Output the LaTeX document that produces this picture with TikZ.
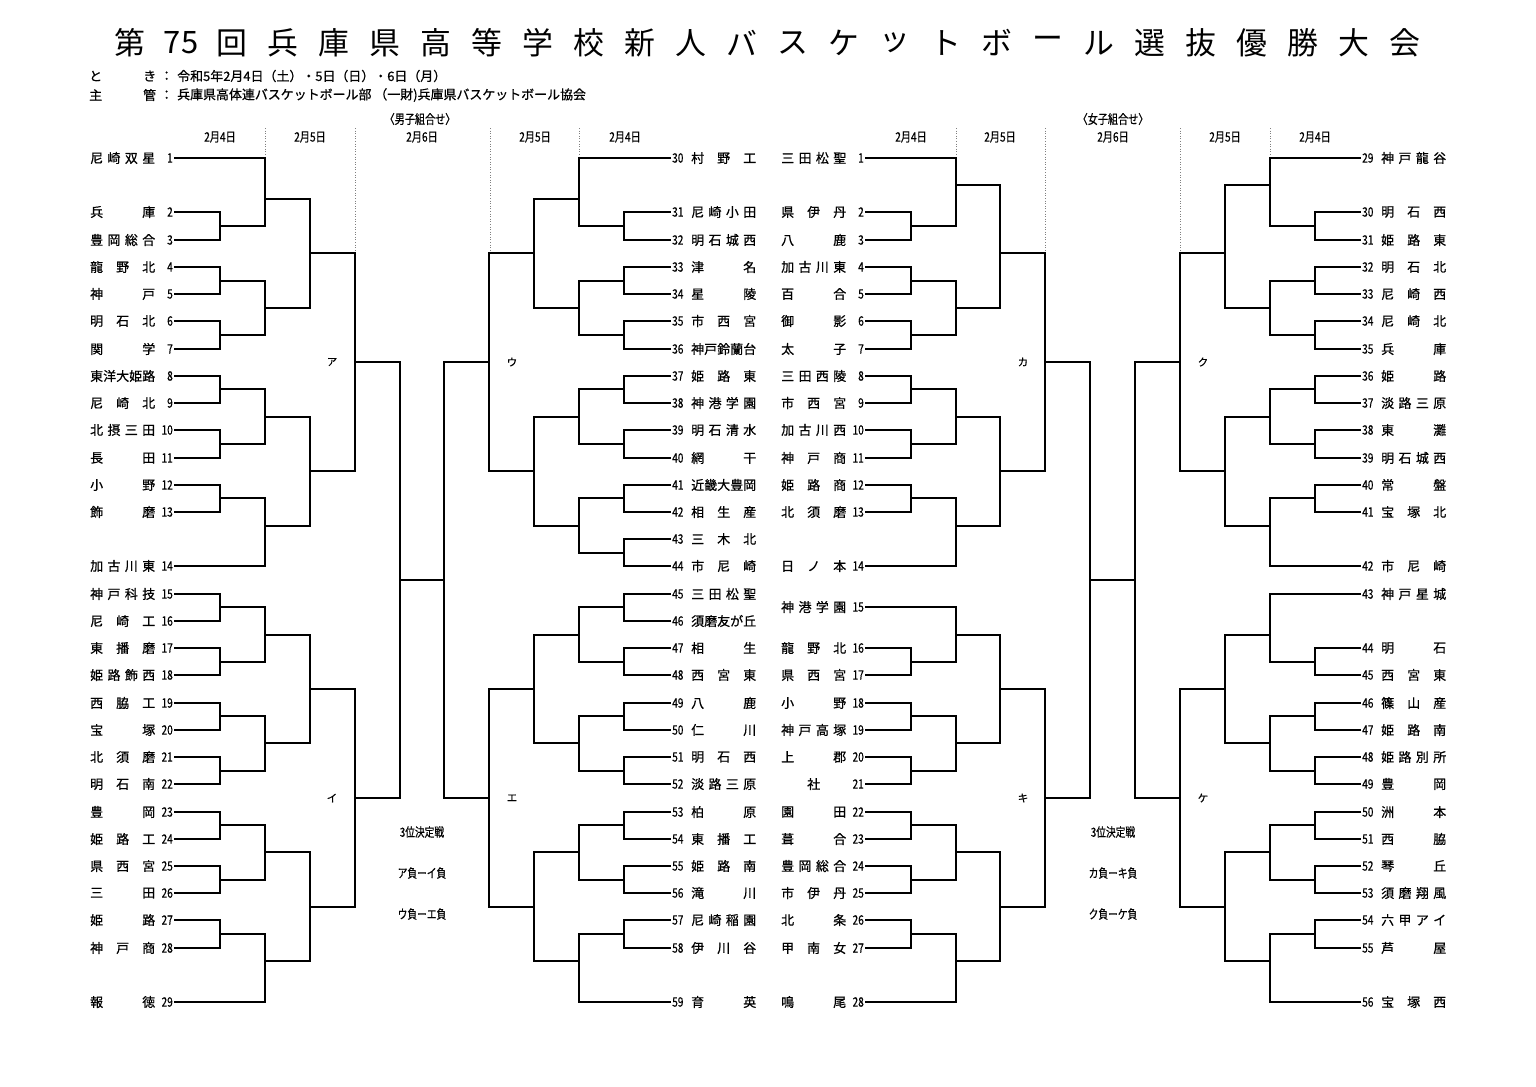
\documentclass[tikz,border=0pt]{standalone}
\usepackage{fontspec}
\setmainfont{Noto Sans CJK JP}
\newfontfamily\narrowfont[FakeStretch=0.78,FakeBold=0.5]{Noto Sans CJK JP}
\newfontfamily\namefont[FakeBold=0.7]{Noto Sans CJK JP}

% names spread over a fixed width, one char centred
\makeatletter
\newlength\namew \setlength\namew{65bp}
\newcommand\spreadname[1]{\makebox[\namew][s]{\spr@start#1\relax}}
\def\spr@start#1#2{\ifx\relax#2\expandafter\@firstoftwo\else\expandafter\@secondoftwo\fi{\hfil#1\hfil}{\spr@a#1#2}}
\def\spr@a#1#2{#1\ifx\relax#2\expandafter\@gobble\else\hfil\fi\spr@a{#2}}
\makeatother

\tikzset{
  num/.style={font=\narrowfont\fontsize{13}{14}\selectfont, inner sep=2bp},
  tname/.style={font=\namefont\fontsize{13}{14}\selectfont, inner sep=0pt},
  ttl/.style={font=\fontsize{31}{32}\selectfont, inner sep=0pt},
  info/.style={font=\namefont\fontsize{13}{14}\selectfont, inner sep=0pt, anchor=west},
  hdr/.style={font=\narrowfont\fontsize{13}{14}\selectfont, inner sep=0pt},
  blk/.style={font=\namefont\fontsize{10.5}{11}\selectfont, inner sep=0pt},
  note/.style={font=\narrowfont\fontsize{12.5}{13}\selectfont, inner sep=0pt},
  bline/.style={line width=2bp, line cap=rect},
  gridline/.style={gray, dotted, line width=0.6bp}
}

\begin{document}
\begin{tikzpicture}[x=1bp,y=-1bp,declare function={row(\r)=round(158+27.23*\r);}]
\useasboundingbox (0,0) rectangle (1536,1086);

% title and heading
\foreach \c [count=\i from 0] in {第,75,回,兵,庫,県,高,等,学,校,新,人,バ,ス,ケ,ッ,ト,ボ,ー,ル,選,抜,優,勝,大,会}
  \node[ttl] (t\i) at ({130+51*\i},43) {\c};
\node[info] (whenA) at (89,76) {と};
\node[info] (whenB) at (143,76) {き};
\node[info] (whenC) at (160,76) {：};
\node[info] (when) at (177,76) {令和5年2月4日（土）・5日（日）・6日（月）};
\node[info] (hostA) at (89,95) {主};
\node[info] (hostB) at (143,95) {管};
\node[info] (hostC) at (160,95) {：};
\node[info] (host) at (177,95) {兵庫県高体連バスケットボール部 （一財)兵庫県バスケットボール協会};

\node[hdr] (boys) at (420,119) {〈男子組合せ〉};
\node[hdr] (girls) at (1113,119) {〈女子組合せ〉};
\foreach \x/\d in {220/4,310/5,422/6,535/5,625/4,911/4,1000/5,1113/6,1225/5,1315/4}
  \node[hdr] (day\x) at (\x,137) {2月\d 日};
\foreach \x/\r in {265/0,355/3.5,490/3.5,579/0,956/0,1045/3.5,1180/3.5,1270/0}
  \draw[gridline] (\x,128) -- (\x,{row(\r)});

% boys, left half
\foreach \n/\r/\s in {1/0/尼崎双星,2/2/兵庫,3/3/豊岡総合,4/4/龍野北,5/5/神戸,6/6/明石北,7/7/関学,
    8/8/東洋大姫路,9/9/尼崎北,10/10/北摂三田,11/11/長田,12/12/小野,13/13/飾磨,14/15/加古川東,
    15/16/神戸科技,16/17/尼崎工,17/18/東播磨,18/19/姫路飾西,19/20/西脇工,20/21/宝塚,21/22/北須磨,
    22/23/明石南,23/24/豊岡,24/25/姫路工,25/26/県西宮,26/27/三田,27/28/姫路,28/29/神戸商,29/31/報徳} {
  \node[num,anchor=east] (b\n) at (175,{row(\r)}) {\n};
  \node[tname,anchor=west] (bn\n) at (90,{row(\r)}) {\expandafter\spreadname\expandafter{\s}};
}
% boys, right half
\foreach \n/\r/\s in {30/0/村野工,31/2/尼崎小田,32/3/明石城西,33/4/津名,34/5/星陵,35/6/市西宮,36/7/神戸鈴蘭台,
    37/8/姫路東,38/9/神港学園,39/10/明石清水,40/11/網干,41/12/近畿大豊岡,42/13/相生産,43/14/三木北,
    44/15/市尼崎,45/16/三田松聖,46/17/須磨友が丘,47/18/相生,48/19/西宮東,49/20/八鹿,50/21/仁川,
    51/22/明石西,52/23/淡路三原,53/24/柏原,54/25/東播工,55/26/姫路南,56/27/滝川,57/28/尼崎稲園,
    58/29/伊川谷,59/31/育英} {
  \node[num,anchor=west] (b\n) at (670,{row(\r)}) {\n};
  \node[tname,anchor=west] (bn\n) at (691,{row(\r)}) {\expandafter\spreadname\expandafter{\s}};
}
% girls, left half
\foreach \n/\r/\s in {1/0/三田松聖,2/2/県伊丹,3/3/八鹿,4/4/加古川東,5/5/百合,6/6/御影,7/7/太子,
    8/8/三田西陵,9/9/市西宮,10/10/加古川西,11/11/神戸商,12/12/姫路商,13/13/北須磨,14/15/日ノ本,
    15/16.5/神港学園,16/18/龍野北,17/19/県西宮,18/20/小野,19/21/神戸高塚,20/22/上郡,21/23/社,
    22/24/園田,23/25/葺合,24/26/豊岡総合,25/27/市伊丹,26/28/北条,27/29/甲南女,28/31/鳴尾} {
  \node[num,anchor=east] (g\n) at (866,{row(\r)}) {\n};
  \node[tname,anchor=west] (gn\n) at (781,{row(\r)}) {\expandafter\spreadname\expandafter{\s}};
}
% girls, right half
\foreach \n/\r/\s in {29/0/神戸龍谷,30/2/明石西,31/3/姫路東,32/4/明石北,33/5/尼崎西,34/6/尼崎北,35/7/兵庫,
    36/8/姫路,37/9/淡路三原,38/10/東灘,39/11/明石城西,40/12/常盤,41/13/宝塚北,42/15/市尼崎,
    43/16/神戸星城,44/18/明石,45/19/西宮東,46/20/篠山産,47/21/姫路南,48/22/姫路別所,49/23/豊岡,
    50/24/洲本,51/25/西脇,52/26/琴丘,53/27/須磨翔風,54/28/六甲アイ,55/29/芦屋,56/31/宝塚西} {
  \node[num,anchor=west] (g\n) at (1360,{row(\r)}) {\n};
  \node[tname,anchor=west] (gn\n) at (1381,{row(\r)}) {\expandafter\spreadname\expandafter{\s}};
}

% boys brackets
\foreach \a/\b/\x/\r/\m in {b2/b3/220/2.5/bm1, b1/bm1/265/1.5/bm2, b4/b5/220/4.5/bm3, b6/b7/220/6.5/bm4,
    bm3/bm4/265/5.5/bm5, bm2/bm5/310/3.5/bm6, b8/b9/220/8.5/bm7, b10/b11/220/10.5/bm8,
    bm7/bm8/265/9.5/bm9, b12/b13/220/12.5/bm10, bm10/b14/265/13.5/bm11, bm9/bm11/310/11.5/bm12,
    bm6/bm12/355/7.5/bmA,
    b15/b16/220/16.5/bm13, b17/b18/220/18.5/bm14, bm13/bm14/265/17.5/bm15, b19/b20/220/20.5/bm16,
    b21/b22/220/22.5/bm17, bm16/bm17/265/21.5/bm18, bm15/bm18/310/19.5/bm19, b23/b24/220/24.5/bm20,
    b25/b26/220/26.5/bm21, bm20/bm21/265/25.5/bm22, b27/b28/220/28.5/bm23, bm23/b29/265/29.5/bm24,
    bm22/bm24/310/27.5/bm25, bm19/bm25/355/23.5/bmI, bmA/bmI/400/15.5/bmL,
    b31/b32/624/2.5/bm31, b30/bm31/579/1.5/bm32, b33/b34/624/4.5/bm33, b35/b36/624/6.5/bm34,
    bm33/bm34/579/5.5/bm35, bm32/bm35/534/3.5/bm36, b37/b38/624/8.5/bm37, b39/b40/624/10.5/bm38,
    bm37/bm38/579/9.5/bm39, b41/b42/624/12.5/bm40, b43/b44/624/14.5/bm41, bm40/bm41/579/13.5/bm42,
    bm39/bm42/534/11.5/bm43, bm36/bm43/489/7.5/bmU,
    b45/b46/624/16.5/bm44, b47/b48/624/18.5/bm45, bm44/bm45/579/17.5/bm46, b49/b50/624/20.5/bm47,
    b51/b52/624/22.5/bm48, bm47/bm48/579/21.5/bm49, bm46/bm49/534/19.5/bm50, b53/b54/624/24.5/bm51,
    b55/b56/624/26.5/bm52, bm51/bm52/579/25.5/bm53, b57/b58/624/28.5/bm54, bm54/b59/579/29.5/bm55,
    bm53/bm55/534/27.5/bm56, bm50/bm56/489/23.5/bmE, bmU/bmE/444/15.5/bmR} {
  \coordinate (\m) at (\x,{row(\r)});
  \draw[bline] (\a) -| (\m) (\b) -| (\m);
}
\draw[bline] (bmL) -- (bmR);

% girls brackets
\foreach \a/\b/\x/\r/\m in {g2/g3/911/2.5/gm1, g1/gm1/956/1/gm2, g4/g5/911/4.5/gm3, g6/g7/911/6.5/gm4,
    gm3/gm4/956/5.5/gm5, gm2/gm5/1000/3.5/gm6, g8/g9/911/8.5/gm7, g10/g11/911/10.5/gm8,
    gm7/gm8/956/9.5/gm9, g12/g13/911/12.5/gm10, gm10/g14/956/13.5/gm11, gm9/gm11/1000/11.5/gm12,
    gm6/gm12/1045/7.5/gmKa,
    g16/g17/911/18.5/gm13, g15/gm13/956/17.5/gm14, g18/g19/911/20.5/gm15, g20/g21/911/22.5/gm16,
    gm15/gm16/956/21.5/gm17, gm14/gm17/1000/19.5/gm18, g22/g23/911/24.5/gm19, g24/g25/911/26.5/gm20,
    gm19/gm20/956/25.5/gm21, g26/g27/911/28.5/gm22, gm22/g28/956/29.5/gm23, gm21/gm23/1000/27.5/gm24,
    gm18/gm24/1045/23.5/gmKi, gmKa/gmKi/1090/15.5/gmL,
    g30/g31/1315/2.5/gm31, g29/gm31/1270/1/gm32, g32/g33/1315/4.5/gm33, g34/g35/1315/6.5/gm34,
    gm33/gm34/1270/5.5/gm35, gm32/gm35/1225/3.5/gm36, g36/g37/1315/8.5/gm37, g38/g39/1315/10.5/gm38,
    gm37/gm38/1270/9.5/gm39, g40/g41/1315/12.5/gm40, gm40/g42/1270/13.5/gm41, gm39/gm41/1225/11.5/gm42,
    gm36/gm42/1180/7.5/gmKu,
    g44/g45/1315/18.5/gm43, g43/gm43/1270/17.5/gm44, g46/g47/1315/20.5/gm45, g48/g49/1315/22.5/gm46,
    gm45/gm46/1270/21.5/gm47, gm44/gm47/1225/19.5/gm48, g50/g51/1315/24.5/gm49, g52/g53/1315/26.5/gm50,
    gm49/gm50/1270/25.5/gm51, g54/g55/1315/28.5/gm52, gm52/g56/1270/29.5/gm53, gm51/gm53/1225/27.5/gm54,
    gm48/gm54/1180/23.5/gmKe, gmKu/gmKe/1135/15.5/gmR} {
  \coordinate (\m) at (\x,{row(\r)});
  \draw[bline] (\a) -| (\m) (\b) -| (\m);
}
\draw[bline] (gmL) -- (gmR);

% block letters
\foreach \x/\r/\l/\k in {332/7.5/ア/A,332/23.5/イ/I,512/7.5/ウ/U,512/23.5/エ/E,
    1023/7.5/カ/Ka,1023/23.5/キ/Ki,1203/7.5/ク/Ku,1203/23.5/ケ/Ke}
  \node[blk] (lab\k) at (\x,{row(\r)}) {\l};

% third place
\node[note] (bthird) at (422,832) {3位決定戦};
\node[note] (bthirdA) at (422,873) {ア負ーイ負};
\node[note] (bthirdB) at (422,914) {ウ負ーエ負};
\node[note] (gthird) at (1113,832) {3位決定戦};
\node[note] (gthirdA) at (1113,873) {カ負ーキ負};
\node[note] (gthirdB) at (1113,914) {ク負ーケ負};
\end{tikzpicture}
\end{document}
